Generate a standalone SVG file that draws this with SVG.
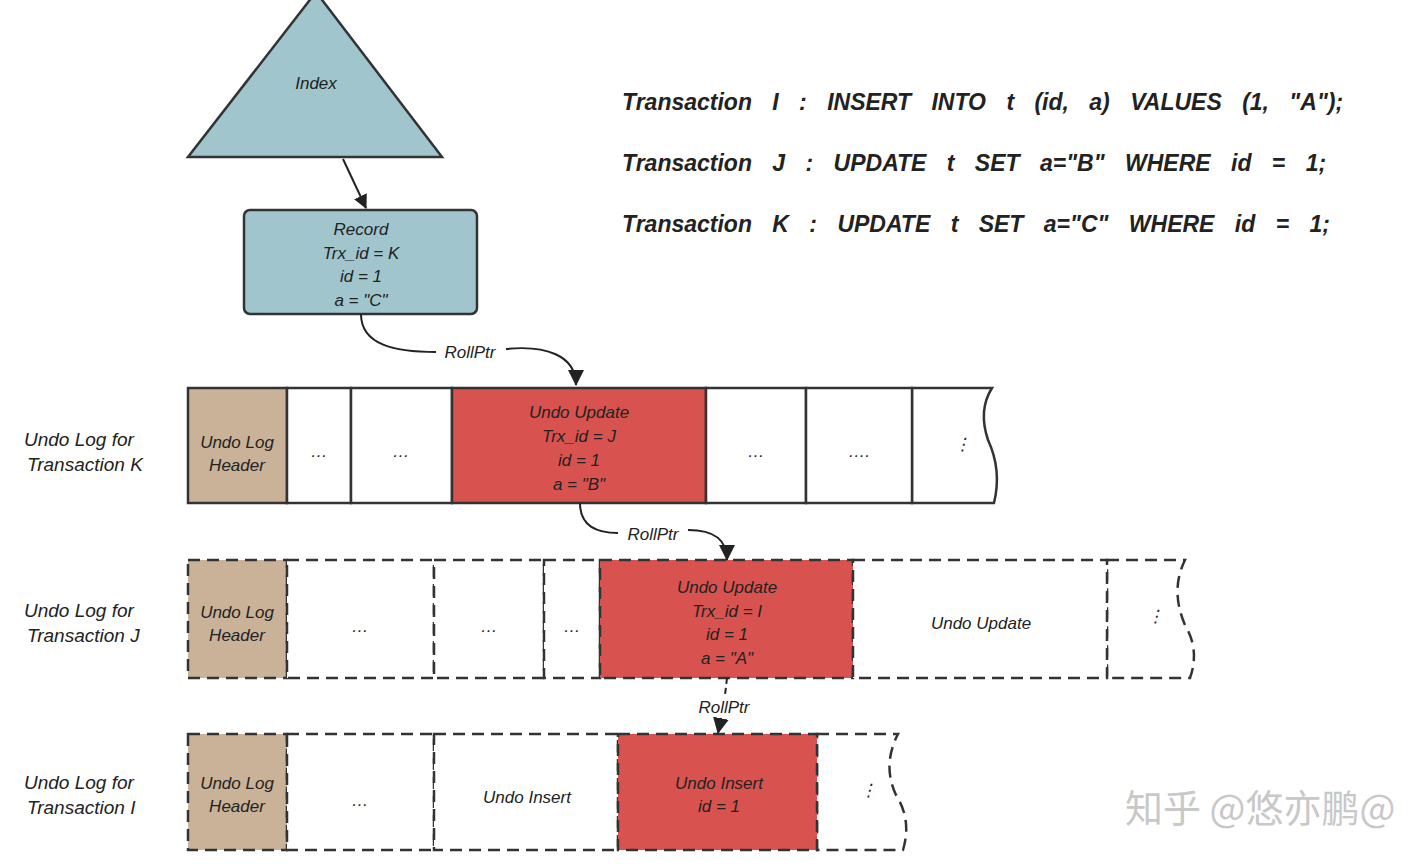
<svg xmlns="http://www.w3.org/2000/svg" width="1425" height="868" viewBox="0 0 1425 868">
<defs>
<marker id="ah" markerWidth="14" markerHeight="14" refX="13" refY="7" orient="auto" markerUnits="userSpaceOnUse" viewBox="0 0 14 14"><path d="M0,0 L14,7 L0,14 z" fill="#222"/></marker>
<marker id="ah2" markerWidth="16" markerHeight="16" refX="15" refY="8" orient="auto" markerUnits="userSpaceOnUse" viewBox="0 0 16 16"><path d="M0,0 L16,8 L0,16 z" fill="#222"/></marker>
</defs>
<style>
text{font-family:"Liberation Sans",Arial,sans-serif;font-style:italic;fill:#222;text-anchor:middle}
.t{font-size:17px}
.big{font-size:23px;text-anchor:start;font-weight:bold;word-spacing:14px}
.lab{font-size:19px;text-anchor:start}
.s{stroke:#333;stroke-width:2.5;fill:#fff}
.d{stroke:#333;stroke-width:2.5;fill:#fff;stroke-dasharray:12,7}
.hd{fill:#c9b298}
.red{fill:#d8534f}
.blue{fill:#a0c5cc;stroke:#333;stroke-width:2.5}
.c{fill:none;stroke:#222;stroke-width:2}
</style>
<rect width="1425" height="868" fill="#fff"/>
<g id="index"><polygon class="blue" points="316,-8 442,157 188,157"/><text class="t" x="316" y="89">Index</text></g>
<g id="record"><rect class="blue" x="244" y="210" width="233" height="104" rx="6"/>
<text class="t" x="361" y="235">Record</text><text class="t" x="361" y="259">Trx_id = K</text><text class="t" x="361" y="282">id = 1</text><text class="t" x="361" y="306">a = "C"</text></g>
<g id="sql">
<text class="big" x="622" y="110">Transaction I : INSERT INTO t (id, a) VALUES (1, "A");</text>
<text class="big" x="622" y="171">Transaction J : UPDATE t SET a="B" WHERE id = 1;</text>
<text class="big" x="622" y="232">Transaction K : UPDATE t SET a="C" WHERE id = 1;</text>
</g>
<g id="rowK">
<text class="lab" x="24" y="446">Undo Log for</text><text class="lab" x="27" y="471">Transaction K</text>
<path class="s" d="M912,388 L992,388 Q978,410 988,440 Q1002,470 994,503 L912,503 Z"/>
<rect class="s hd" x="188" y="388" width="99" height="115"/>
<rect class="s" x="287" y="388" width="64" height="115"/>
<rect class="s" x="351" y="388" width="101" height="115"/>
<rect class="s red" x="452" y="388" width="254" height="115"/>
<rect class="s" x="706" y="388" width="100" height="115"/>
<rect class="s" x="806" y="388" width="106" height="115"/>
<text class="t" x="237" y="448">Undo Log</text><text class="t" x="237" y="471">Header</text>
<text class="t" x="319" y="457">…</text><text class="t" x="401" y="457">…</text>
<text class="t" x="579" y="418">Undo Update</text><text class="t" x="579" y="442">Trx_id = J</text><text class="t" x="579" y="466">id = 1</text><text class="t" x="579" y="490">a = "B"</text>
<text class="t" x="756" y="457">…</text><text class="t" x="859" y="457">….</text>
<text class="t" x="962" y="450">⋮</text>
</g>
<g id="rowJ">
<text class="lab" x="24" y="617">Undo Log for</text><text class="lab" x="27" y="642">Transaction J</text>
<path class="d" d="M1107,560 L1185,560 Q1170,590 1185,625 Q1200,650 1190,678 L1107,678 Z"/>
<rect class="d hd" x="188" y="560" width="99" height="118"/>
<rect class="d" x="287" y="560" width="147" height="118"/>
<rect class="d" x="434" y="560" width="110" height="118"/>
<rect class="d" x="544" y="560" width="56" height="118"/>
<rect class="d red" x="600" y="560" width="253" height="118"/>
<rect class="d" x="853" y="560" width="254" height="118"/>
<text class="t" x="237" y="618">Undo Log</text><text class="t" x="237" y="641">Header</text>
<text class="t" x="360" y="632">…</text><text class="t" x="489" y="632">…</text><text class="t" x="572" y="632">…</text>
<text class="t" x="727" y="593">Undo Update</text><text class="t" x="727" y="617">Trx_id = I</text><text class="t" x="727" y="640">id = 1</text><text class="t" x="727" y="664">a = "A"</text>
<text class="t" x="981" y="629">Undo Update</text>
<text class="t" x="1155" y="622">⋮</text>
</g>
<g id="rowI">
<text class="lab" x="24" y="789">Undo Log for</text><text class="lab" x="27" y="814">Transaction I</text>
<path class="d" d="M817,734 L898,734 Q882,765 896,795 Q912,820 903,850 L817,850 Z"/>
<rect class="d hd" x="188" y="734" width="99" height="116"/>
<rect class="d" x="287" y="734" width="147" height="116"/>
<rect class="d" x="434" y="734" width="184" height="116"/>
<rect class="d red" x="618" y="734" width="199" height="116"/>
<text class="t" x="237" y="789">Undo Log</text><text class="t" x="237" y="812">Header</text>
<text class="t" x="360" y="806">…</text>
<text class="t" x="527" y="803">Undo Insert</text>
<text class="t" x="719" y="789">Undo Insert</text><text class="t" x="719" y="812">id = 1</text>
<text class="t" x="868" y="796">⋮</text>
</g>
<g id="connectors">
<line class="c" x1="343" y1="159" x2="366" y2="208" marker-end="url(#ah)" stroke-width="2.5"/>
<path class="c" d="M361,314 C361,345 395,352 436,352"/>
<path class="c" d="M506,349 C545,345 576,355 576,385" marker-end="url(#ah2)"/>
<text class="t" x="470" y="358">RollPtr</text>
<path class="c" d="M580,503 C580,525 595,533 618,533"/>
<path class="c" d="M688,530 C715,530 727,540 727,560" marker-end="url(#ah2)"/>
<text class="t" x="653" y="540">RollPtr</text>
<path class="c" d="M727,678 L725,695" stroke-dasharray="6,4"/>
<path class="c" d="M721,718 L718,733" marker-end="url(#ah2)"/>
<text class="t" x="724" y="713">RollPtr</text>
</g>
<text x="1125" y="822" style="font-family:'Noto Sans CJK SC',sans-serif;font-style:normal;font-size:38px;fill:#c8c8c8;text-anchor:start">知乎 @悠亦鹏@</text>
</svg>
